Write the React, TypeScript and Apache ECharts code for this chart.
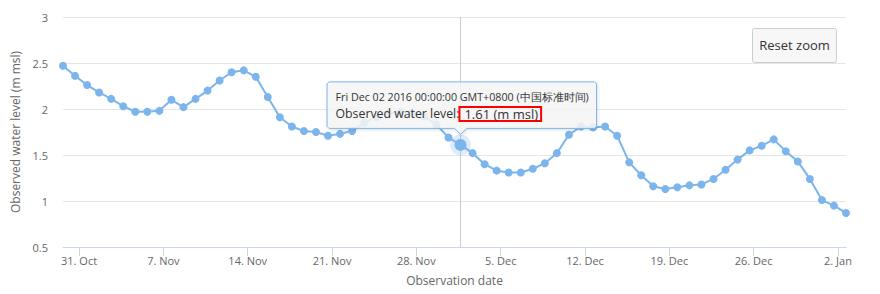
import React, { useEffect, useRef } from 'react';
import * as echarts from 'echarts';

// Daily observations, first one at 30 Oct 2016 00:00 GMT+0800 (= 29 Oct 16:00 UTC)
const startDate = '2016-10-29T16:00:00Z';
const waterLevels = [
  2.47, 2.36, 2.26, 2.18, 2.11, 2.03, 1.97, 1.97, 1.98, 2.10,
  2.02, 2.11, 2.20, 2.31, 2.40, 2.42, 2.35, 2.13, 1.91, 1.81,
  1.76, 1.75, 1.71, 1.73, 1.76, 1.85, 1.91, 1.95, 1.97, 1.96,
  1.92, 1.83, 1.69, 1.61, 1.52, 1.40, 1.33, 1.31, 1.31, 1.35,
  1.41, 1.52, 1.72, 1.81, 1.80, 1.81, 1.71, 1.42, 1.28, 1.16,
  1.13, 1.15, 1.17, 1.18, 1.24, 1.34, 1.45, 1.55, 1.60, 1.67,
  1.54, 1.43, 1.24, 1.01, 0.95, 0.87,
];
const tickDates = [
  '2016-10-31', '2016-11-07', '2016-11-14', '2016-11-21', '2016-11-28',
  '2016-12-05', '2016-12-12', '2016-12-19', '2016-12-26', '2017-01-02',
];
const monthNames = ['Jan', 'Feb', 'Mar', 'Apr', 'May', 'Jun', 'Jul', 'Aug', 'Sep', 'Oct', 'Nov', 'Dec'];
const yMin = 0.5;
const yMax = 3;
const yStep = 0.5;
const hoverIndex = 33;
const seriesName = 'Observed water level';
const unitText = 'm msl';
const tooltipDateText = 'Fri Dec 02 2016 00:00:00 GMT+0800 (中国标准时间)';
const xTitle = 'Observation date';
const yTitle = 'Observed water level (m msl)';
const resetLabel = 'Reset zoom';

const DAY = 86400000;
const FONT = '"Open Sans", "Noto Sans", sans-serif';
const LINE_COLOR = '#7cb5ec';

export default function App() {
  const ref = useRef<HTMLDivElement>(null);

  useEffect(() => {
    document.body.style.margin = '0';
    if (!ref.current) return;
    const chart = echarts.init(ref.current, undefined, { renderer: 'svg' });
    // x measured in days from the first tick (31 Oct 2016 00:00 UTC)
    const origin = Date.parse(tickDates[0] + 'T00:00:00Z');
    const toDays = (ms: number) => (ms - origin) / DAY;
    const t0 = Date.parse(startDate);
    const points = waterLevels.map((v, i) => [toDays(t0 + i * DAY), v]);
    const tickValues = tickDates.map((d) => toDays(Date.parse(d + 'T00:00:00Z')));
    const hovered = points[hoverIndex];
    const fmt = (v: number) => {
      const d = new Date(origin + Math.round(v) * DAY);
      return `${d.getUTCDate()}. ${monthNames[d.getUTCMonth()]}`;
    };

    chart.setOption({
      animation: false,
      textStyle: { fontFamily: FONT },
      grid: { left: 63, right: 34, top: 17, bottom: 47, containLabel: false },
      xAxis: {
        type: 'value',
        min: points[0][0],
        max: points[points.length - 1][0],
        axisLine: { show: true, lineStyle: { color: '#ccd6eb', width: 1 } },
        axisTick: { show: true, length: 9, lineStyle: { color: '#ccd6eb' }, customValues: tickValues },
        axisLabel: {
          customValues: tickValues,
          color: '#666666',
          fontSize: 11,
          margin: 8,
          formatter: fmt,
        },
        splitLine: { show: false },
        name: xTitle,
        nameLocation: 'middle',
        nameGap: 27,
        nameTextStyle: { color: '#666666', fontSize: 12 },
      },
      yAxis: {
        type: 'value',
        min: yMin,
        max: yMax,
        interval: yStep,
        axisLine: { show: false },
        axisTick: { show: false },
        axisLabel: { color: '#666666', fontSize: 11, margin: 15 },
        splitLine: { show: true, lineStyle: { color: '#e6e6e6', width: 1 } },
        name: yTitle,
        nameLocation: 'middle',
        nameGap: 38,
        nameTextStyle: { color: '#666666', fontSize: 12 },
      },
      series: [
        {
          type: 'scatter',
          data: [hovered],
          symbolSize: 0,
          z: 1,
          silent: true,
          markLine: {
            silent: true,
            z: 1,
            symbol: ['none', 'none'],
            label: { show: false },
            lineStyle: { color: '#cccccc', width: 1, type: 'solid' },
            data: [{ xAxis: hovered[0] }],
          },
        },
        {
          type: 'line',
          name: seriesName,
          data: points,
          symbol: 'circle',
          symbolSize: 8,
          showAllSymbol: true,
          lineStyle: { color: LINE_COLOR, width: 2 },
          itemStyle: { color: LINE_COLOR },
          z: 2,
        },
        {
          type: 'scatter',
          data: [hovered],
          symbolSize: 21,
          itemStyle: { color: LINE_COLOR, opacity: 0.25 },
          z: 6,
          silent: true,
        },
        {
          type: 'scatter',
          data: [hovered],
          symbolSize: 12,
          itemStyle: { color: LINE_COLOR, opacity: 1 },
          z: 7,
          silent: true,
        },
      ],
    });

    const [px, py] = chart.convertToPixel({ gridIndex: 0 }, hovered) as number[];
    const L = px - 133.5;
    const R = px + 136;
    const T = py - 63;
    const B = py - 16.5;
    const c = 2;
    const tip = py - 10.5;
    const outline = [
      [L + c, T], [R - c, T], [R, T + c], [R, B - c], [R - c, B],
      [px + 6, B], [px, tip], [px - 6, B],
      [L + c, B], [L, B - c], [L, T + c],
    ];

    chart.setOption({
      graphic: [
        {
          type: 'polygon',
          z: 100,
          shape: { points: outline },
          style: {
            fill: 'rgba(247,247,247,0.85)',
            stroke: LINE_COLOR,
            lineWidth: 1,
            shadowBlur: 3,
            shadowOffsetX: 1,
            shadowOffsetY: 1,
            shadowColor: 'rgba(0,0,0,0.15)',
          },
        },
        {
          type: 'text',
          z: 101,
          x: L + 8.5,
          y: T + 15.5,
          style: {
            text: tooltipDateText,
            fontSize: 10.7,
            fontFamily: FONT,
            fill: '#333333',
            verticalAlign: 'middle',
            align: 'left',
          },
        },
        {
          type: 'text',
          z: 101,
          x: L + 8.5,
          y: T + 32,
          style: {
            text: `{a|${seriesName}:}{b|${waterLevels[hoverIndex].toFixed(2)} (${unitText})}`,
            fontFamily: FONT,
            verticalAlign: 'middle',
            align: 'left',
            rich: {
              a: { fontSize: 12.3, fill: '#333333', fontFamily: FONT },
              b: {
                fontSize: 13,
                fill: '#333333',
                fontFamily: FONT,
                borderColor: '#ff0000',
                borderWidth: 2,
                padding: [1, 3, 0, 5],
              },
            },
          },
        },
        {
          type: 'rect',
          z: 100,
          shape: { x: 752.5, y: 28.5, width: 84, height: 34, r: 2 },
          style: { fill: '#f7f7f7', stroke: '#cccccc', lineWidth: 1 },
        },
        {
          type: 'text',
          z: 101,
          x: 794.5,
          y: 44.5,
          style: {
            text: resetLabel,
            fontSize: 13,
            fontFamily: FONT,
            fill: '#333333',
            align: 'center',
            verticalAlign: 'middle',
          },
        },
      ],
    });

    return () => chart.dispose();
  }, []);

  return <div ref={ref} style={{ width: 880, height: 294 }} />;
}
